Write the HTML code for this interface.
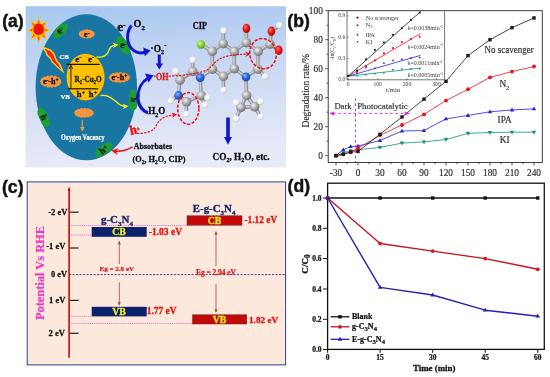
<!DOCTYPE html>
<html><head><meta charset="utf-8"><title>Figure</title>
<style>
html,body{margin:0;padding:0;background:#fff;}
body{width:550px;height:377px;overflow:hidden;}
svg{display:block;filter:blur(0.35px);}
text{font-family:"Liberation Serif",serif;}
.lab{font-family:"Liberation Sans",sans-serif;font-weight:bold;font-size:17.6px;fill:#111;stroke:#111;stroke-width:0.45px;}
.b{font-weight:bold;}
</style></head><body>
<svg width="550" height="377" viewBox="0 0 550 377">
<defs>
<linearGradient id="bga" x1="0" y1="0" x2="0.12" y2="1">
<stop offset="0" stop-color="#a7c7f0"/><stop offset="0.45" stop-color="#c9d8f3"/><stop offset="1" stop-color="#e9eaf8"/>
</linearGradient>
<radialGradient id="gC" cx="0.38" cy="0.35" r="0.7"><stop offset="0" stop-color="#f4f4f4"/><stop offset="0.45" stop-color="#b2b2b2"/><stop offset="1" stop-color="#6c6c6c"/></radialGradient>
<radialGradient id="gH" cx="0.4" cy="0.38" r="0.7"><stop offset="0" stop-color="#ffffff"/><stop offset="0.6" stop-color="#f0f0f0"/><stop offset="1" stop-color="#b8b8b8"/></radialGradient>
<radialGradient id="gN" cx="0.38" cy="0.35" r="0.7"><stop offset="0" stop-color="#8fb4ff"/><stop offset="0.45" stop-color="#2f6fe0"/><stop offset="1" stop-color="#1840a0"/></radialGradient>
<radialGradient id="gO" cx="0.38" cy="0.35" r="0.7"><stop offset="0" stop-color="#ff7a6a"/><stop offset="0.45" stop-color="#ee1c1c"/><stop offset="1" stop-color="#a00808"/></radialGradient>
<radialGradient id="gF" cx="0.38" cy="0.35" r="0.7"><stop offset="0" stop-color="#d8ff9a"/><stop offset="0.45" stop-color="#8fd83a"/><stop offset="1" stop-color="#5a9a18"/></radialGradient>
<marker id="mY" viewBox="0 0 10 10" refX="5" refY="5" markerWidth="4.2" markerHeight="4.2" orient="auto"><path d="M0,0 L10,5 L0,10 L3,5 Z" fill="#f4f01a"/></marker>
<marker id="mR" viewBox="0 0 10 10" refX="6" refY="5" markerWidth="5" markerHeight="5" orient="auto"><path d="M0,0 L10,5 L0,10 L3,5 Z" fill="#e81010"/></marker>
<marker id="mB" viewBox="0 0 10 10" refX="4" refY="5" markerWidth="3.2" markerHeight="3.2" orient="auto"><path d="M0,0 L10,5 L0,10 Z" fill="#1018c8"/></marker>
<marker id="mBr" viewBox="0 0 10 10" refX="8" refY="5" markerWidth="5" markerHeight="5" orient="auto"><path d="M0,1 L10,5 L0,9 L2,5 Z" fill="#a84040"/></marker>

</defs>
<rect width="550" height="377" fill="#ffffff"/>

<g id="panelA">
<rect x="25.6" y="6.2" width="260.5" height="161.3" fill="url(#bga)"/>
<text class="lab" x="2.2" y="27.3">(a)</text>
<ellipse cx="86.3" cy="87.3" rx="50.7" ry="73" fill="#1975a2"/>
<polygon points="38.6,16.6 40.9,23.7 46.9,20.6 44.3,27.5 50.4,30.2 44.3,32.9 46.9,39.8 40.9,36.7 38.6,43.8 36.3,36.7 30.3,39.8 32.9,32.9 26.8,30.2 32.9,27.5 30.3,20.6 36.3,23.7" fill="#ffc400"/>
<ellipse cx="38.6" cy="30.2" rx="7.2" ry="7.8" fill="#ffc400"/>
<path d="M38.6,19.2 L37.3,23.3 L39.9,23.3 Z M45.4,22.4 L42.1,24.4 L43.9,26.3 Z M48.2,30.2 L44.9,28.8 L44.9,31.6 Z M45.4,38.0 L43.9,34.1 L42.1,36.0 Z M38.6,41.2 L39.9,37.1 L37.3,37.1 Z M31.8,38.0 L35.1,36.0 L33.3,34.1 Z M29.0,30.2 L32.3,31.6 L32.3,28.8 Z M31.8,22.4 L33.3,26.3 L35.1,24.4 Z" fill="#ff5a08"/>
<ellipse cx="38.6" cy="29.4" rx="5.3" ry="5.8" fill="#f01212"/>
<path d="M41.1,45.9 L50.8,49.6 L54.6,53.6 L57,60.2 L60.4,64 L64.3,73.4 L56,66.4 L51.6,62 L50,58.8 L46.2,55.2 L45.4,52.4 Z" fill="#ffd21a"/>
<path d="M44.5,48.4 L50.2,50.9 L53.4,54.4 L55.7,60.8 L59,64.7 L61.6,70 L56.4,65.2 L52.6,61.3 L51.1,58 L47.5,54.5 L46.7,52 Z" fill="#f02a10"/>
<ellipse cx="85.6" cy="77.1" rx="19" ry="23.3" fill="#ffc000"/>
<line x1="66.4" y1="64.3" x2="99.8" y2="64.3" stroke="#111" stroke-width="1.2"/>
<line x1="68" y1="88.8" x2="98.2" y2="88.8" stroke="#111" stroke-width="1.2"/>
<line x1="70.9" y1="88.8" x2="70.9" y2="67" stroke="#111" stroke-width="0.9"/><path d="M69,69 L70.9,65.2 L72.8,69" fill="none" stroke="#111" stroke-width="0.9"/>
<text x="59.4" y="59.4" font-size="6.8" fill="#fff" font-weight="bold" stroke="#fff" stroke-width="0.2">CB</text>
<text x="60.4" y="98.8" font-size="6.8" fill="#fff" font-weight="bold" stroke="#fff" stroke-width="0.2">VB</text>
<text x="75.2" y="61.8" font-size="9.2" fill="#111" font-weight="bold" stroke="#111" stroke-width="0.28">e<tspan dy="-2.6" font-size="68%">-</tspan><tspan dy="2.6" font-size="0.1"> </tspan></text>
<text x="88" y="61.8" font-size="9.2" fill="#111" font-weight="bold" stroke="#111" stroke-width="0.28">e<tspan dy="-2.6" font-size="68%">-</tspan><tspan dy="2.6" font-size="0.1"> </tspan></text>
<text x="76.6" y="97.3" font-size="9.2" fill="#111" font-weight="bold" stroke="#111" stroke-width="0.28">h<tspan dy="-2.6" font-size="68%">+</tspan><tspan dy="2.6" font-size="0.1"> </tspan></text>
<text x="88.5" y="97.3" font-size="9.2" fill="#111" font-weight="bold" stroke="#111" stroke-width="0.28">h<tspan dy="-2.6" font-size="68%">+</tspan><tspan dy="2.6" font-size="0.1"> </tspan></text>
<text x="74.6" y="81.9" font-size="8.9" fill="#111" font-weight="bold" stroke="#111" stroke-width="0.27" textLength="27" lengthAdjust="spacingAndGlyphs">R<tspan dy="2" font-size="60%">2</tspan><tspan dy="-2" font-size="0.1"> </tspan>-Cu<tspan dy="2" font-size="60%">2</tspan><tspan dy="-2" font-size="0.1"> </tspan>O</text>
<g transform="translate(86.7,34) scale(0.72,0.72)" fill="#f79440"><ellipse cx="0" cy="0" rx="9.6" ry="5"/><circle cx="8.92" cy="0.89" r="2"/><circle cx="7.41" cy="2.61" r="2"/><circle cx="4.62" cy="3.88" r="2"/><circle cx="1.04" cy="4.47" r="2"/><circle cx="-2.73" cy="4.29" r="2"/><circle cx="-6.02" cy="3.37" r="2"/><circle cx="-8.28" cy="1.87" r="2"/><circle cx="-9.10" cy="0.04" r="2"/><circle cx="-8.35" cy="-1.79" r="2"/><circle cx="-6.15" cy="-3.32" r="2"/><circle cx="-2.89" cy="-4.27" r="2"/><circle cx="0.87" cy="-4.48" r="2"/><circle cx="4.48" cy="-3.92" r="2"/><circle cx="7.31" cy="-2.68" r="2"/><circle cx="8.88" cy="-0.98" r="2"/></g>
<text x="86.7" y="36.9" font-size="8.6" fill="#111" font-weight="bold" text-anchor="middle" stroke="#111" stroke-width="0.26">e<tspan dy="-2.4" font-size="68%">-</tspan><tspan dy="2.4" font-size="0.1"> </tspan></text>
<g transform="translate(50.8,81.5) scale(0.96,0.96)" fill="#f79440"><ellipse cx="0" cy="0" rx="9.6" ry="5"/><circle cx="8.92" cy="0.89" r="2"/><circle cx="7.41" cy="2.61" r="2"/><circle cx="4.62" cy="3.88" r="2"/><circle cx="1.04" cy="4.47" r="2"/><circle cx="-2.73" cy="4.29" r="2"/><circle cx="-6.02" cy="3.37" r="2"/><circle cx="-8.28" cy="1.87" r="2"/><circle cx="-9.10" cy="0.04" r="2"/><circle cx="-8.35" cy="-1.79" r="2"/><circle cx="-6.15" cy="-3.32" r="2"/><circle cx="-2.89" cy="-4.27" r="2"/><circle cx="0.87" cy="-4.48" r="2"/><circle cx="4.48" cy="-3.92" r="2"/><circle cx="7.31" cy="-2.68" r="2"/><circle cx="8.88" cy="-0.98" r="2"/></g>
<text x="50.8" y="84.4" font-size="9" fill="#111" font-weight="bold" text-anchor="middle" stroke="#111" stroke-width="0.27" textLength="15.8" lengthAdjust="spacingAndGlyphs">e<tspan dy="-2.4" font-size="68%">-</tspan><tspan dy="2.4" font-size="0.1"> </tspan>-h<tspan dy="-2.4" font-size="68%">+</tspan><tspan dy="2.4" font-size="0.1"> </tspan></text>
<g transform="translate(119.4,77.5) scale(0.95,0.84)" fill="#f79440"><ellipse cx="0" cy="0" rx="9.6" ry="5"/><circle cx="8.92" cy="0.89" r="2"/><circle cx="7.41" cy="2.61" r="2"/><circle cx="4.62" cy="3.88" r="2"/><circle cx="1.04" cy="4.47" r="2"/><circle cx="-2.73" cy="4.29" r="2"/><circle cx="-6.02" cy="3.37" r="2"/><circle cx="-8.28" cy="1.87" r="2"/><circle cx="-9.10" cy="0.04" r="2"/><circle cx="-8.35" cy="-1.79" r="2"/><circle cx="-6.15" cy="-3.32" r="2"/><circle cx="-2.89" cy="-4.27" r="2"/><circle cx="0.87" cy="-4.48" r="2"/><circle cx="4.48" cy="-3.92" r="2"/><circle cx="7.31" cy="-2.68" r="2"/><circle cx="8.88" cy="-0.98" r="2"/></g>
<text x="119.4" y="80.4" font-size="9" fill="#111" font-weight="bold" text-anchor="middle" stroke="#111" stroke-width="0.27" textLength="15.8" lengthAdjust="spacingAndGlyphs">e<tspan dy="-2.4" font-size="68%">-</tspan><tspan dy="2.4" font-size="0.1"> </tspan>-h<tspan dy="-2.4" font-size="68%">+</tspan><tspan dy="2.4" font-size="0.1"> </tspan></text>
<g transform="translate(84,112.8) scale(0.88,0.78)" fill="#f79440"><ellipse cx="0" cy="0" rx="9.6" ry="5"/><circle cx="8.92" cy="0.89" r="2"/><circle cx="7.41" cy="2.61" r="2"/><circle cx="4.62" cy="3.88" r="2"/><circle cx="1.04" cy="4.47" r="2"/><circle cx="-2.73" cy="4.29" r="2"/><circle cx="-6.02" cy="3.37" r="2"/><circle cx="-8.28" cy="1.87" r="2"/><circle cx="-9.10" cy="0.04" r="2"/><circle cx="-8.35" cy="-1.79" r="2"/><circle cx="-6.15" cy="-3.32" r="2"/><circle cx="-2.89" cy="-4.27" r="2"/><circle cx="0.87" cy="-4.48" r="2"/><circle cx="4.48" cy="-3.92" r="2"/><circle cx="7.31" cy="-2.68" r="2"/><circle cx="8.88" cy="-0.98" r="2"/></g>
<line x1="82.3" y1="119.8" x2="82.3" y2="128.5" stroke="#e89a40" stroke-width="1.2"/><path d="M80.1,127 L82.3,131.8 L84.5,127 Z" fill="#f0a040"/>
<text x="82.8" y="139.6" font-size="7.5" fill="#fff" font-weight="bold" text-anchor="middle" stroke="#fff" stroke-width="0.22" textLength="43.5" lengthAdjust="spacingAndGlyphs">Oxygen Vacancy</text>
<rect x="51.400000000000006" y="26.200000000000003" width="18.4" height="9.2" rx="7.82" ry="4.6" transform="rotate(-46 60.6 30.8)" fill="#1b9e32"/>
<text x="60.6" y="33.4" font-size="10" font-weight="bold" fill="#111" text-anchor="middle" stroke="#111" stroke-width="0.25" transform="rotate(-30 60.6 30.8)">e<tspan dy="-2.8" font-size="60%">-</tspan><tspan dy="2.8" font-size="0.1"> </tspan></text>
<rect x="113.2" y="40.699999999999996" width="20.4" height="9.4" rx="7.99" ry="4.7" transform="rotate(58 123.4 45.4)" fill="#1b9e32"/>
<text x="123.4" y="48.0" font-size="9.4" font-weight="bold" fill="#111" text-anchor="middle" stroke="#111" stroke-width="0.25" transform="rotate(8 123.4 45.4)">e<tspan dy="-2.6" font-size="60%">-</tspan><tspan dy="2.6" font-size="0.1"> </tspan></text>
<rect x="122.6" y="95.39999999999999" width="21.2" height="8.8" rx="7.48" ry="4.4" transform="rotate(90 133.2 99.8)" fill="#1b9e32"/>
<text x="133.2" y="102.2" font-size="8.5" font-weight="bold" fill="#111" text-anchor="middle" stroke="#111" stroke-width="0.25" transform="rotate(90 133.2 99.8)">h</text>
<rect x="33.1" y="113.10000000000001" width="21.2" height="8.6" rx="7.31" ry="4.3" transform="rotate(66 43.7 117.4)" fill="#1b9e32"/>
<text x="43.7" y="120.0" font-size="9" font-weight="bold" fill="#111" text-anchor="middle" stroke="#111" stroke-width="0.25" transform="rotate(66 43.7 117.4)">h</text>
<rect x="93.6" y="145.10000000000002" width="20.4" height="9.4" rx="7.99" ry="4.7" transform="rotate(-35 103.8 149.8)" fill="#1b9e32"/>
<text x="103.8" y="152.8" font-size="9.4" font-weight="bold" fill="#111" text-anchor="middle" stroke="#111" stroke-width="0.25" transform="rotate(-35 103.8 149.8)">h<tspan dy="-2.4" font-size="68%">+</tspan><tspan dy="2.4" font-size="0.1"> </tspan></text>
<path d="M96.5,57 C102,57.6 106.5,55.6 108.2,52 C109.8,48.4 110.6,45.5 115.6,45.1" fill="none" stroke="#f4f01a" stroke-width="1.4" marker-end="url(#mY)"/>
<path d="M100.5,95.5 C108,94.5 112,98.5 116,101.5 C120,105.5 123,106.4 125.6,106.3" fill="none" stroke="#f4f01a" stroke-width="1.4" marker-end="url(#mY)"/>
<text x="117.2" y="31.4" font-size="12.6" fill="#111" font-weight="bold" stroke="#111" stroke-width="0.38" textLength="8.4" lengthAdjust="spacingAndGlyphs">e<tspan dy="-4" font-size="55%">-</tspan><tspan dy="4" font-size="0.1"> </tspan></text>
<text x="133.6" y="27.3" font-size="10.6" fill="#111" font-weight="bold" stroke="#111" stroke-width="0.32" textLength="11.2" lengthAdjust="spacingAndGlyphs">O<tspan dy="2.2" font-size="66%">2</tspan><tspan dy="-2.2" font-size="0.1"> </tspan></text>
<path d="M131.5,25.5 C125.5,33 127,44 132,49 C136,53 141,53.5 145,52.2" fill="none" stroke="#1216cc" stroke-width="3"/>
<path d="M143.2,47.6 L150.6,50.6 L144.8,56.2 Z" fill="#1216cc"/>
<path d="M137.8,98 C138,89 142,81.5 148,78.2" fill="none" stroke="#1216cc" stroke-width="2.8"/>
<path d="M145,73.6 L153.6,75.2 L148.6,82.4 Z" fill="#1216cc"/>
<path d="M137.9,94 C137.4,100 139,105 141.4,108 C143.2,110.4 145.4,112 148,112.8" fill="none" stroke="#1216cc" stroke-width="3.4"/>
<text x="150.6" y="52.2" font-size="10.6" fill="#111" font-weight="bold" stroke="#111" stroke-width="0.32" textLength="15.8" lengthAdjust="spacingAndGlyphs">·O<tspan dy="2.2" font-size="66%">2</tspan><tspan dy="-2.2" font-size="0.1"> </tspan><tspan dy="-4.6" font-size="72%">-</tspan><tspan dy="4.6" font-size="0.1"> </tspan></text>
<path d="M157.8,54.6 L160.8,54.6 L160.8,63.6 L163,63.6 L159.3,69.6 L155.6,63.6 L157.8,63.6 Z" fill="#1216cc"/>
<text x="153.4" y="80" font-size="10.4" fill="#e81010" font-weight="bold" stroke="#e81010" stroke-width="0.31" textLength="15" lengthAdjust="spacingAndGlyphs">·OH</text>
<text x="148.2" y="114.4" font-size="10.4" fill="#111" font-weight="bold" stroke="#111" stroke-width="0.31" textLength="17.2" lengthAdjust="spacingAndGlyphs">H<tspan dy="2.2" font-size="66%">2</tspan><tspan dy="-2.2" font-size="0.1"> </tspan>O</text>
<text x="129.6" y="134.6" font-size="13.4" fill="#e81010" font-weight="bold" transform="rotate(-13 132 130)" stroke="#e81010" stroke-width="0.4" textLength="10.4" lengthAdjust="spacingAndGlyphs">h<tspan dy="-2.2" font-size="46%">+</tspan><tspan dy="2.2" font-size="0.1"> </tspan></text>
<text x="133.8" y="149.3" font-size="8.8" fill="#111" font-weight="bold" stroke="#111" stroke-width="0.26" textLength="38.2" lengthAdjust="spacingAndGlyphs">Absorbates</text>
<text x="132.4" y="162.2" font-size="8.8" fill="#111" font-weight="bold" stroke="#111" stroke-width="0.26" textLength="53.2" lengthAdjust="spacingAndGlyphs">(O<tspan dy="1.8" font-size="66%">2</tspan><tspan dy="-1.8" font-size="0.1"> </tspan>, H<tspan dy="1.8" font-size="66%">2</tspan><tspan dy="-1.8" font-size="0.1"> </tspan>O, CIP)</text>
<text x="192.8" y="29.3" font-size="9.4" fill="#111" font-weight="bold" stroke="#111" stroke-width="0.28" textLength="14.4" lengthAdjust="spacingAndGlyphs">CIP</text>
<text x="212.6" y="159.6" font-size="9.8" fill="#111" font-weight="bold" stroke="#111" stroke-width="0.29" textLength="57" lengthAdjust="spacingAndGlyphs">CO<tspan dy="2" font-size="66%">2</tspan><tspan dy="-2" font-size="0.1"> </tspan>, H<tspan dy="2" font-size="66%">2</tspan><tspan dy="-2" font-size="0.1"> </tspan>O, etc.</text>
<path d="M226.2,117.6 L229.8,117.6 L229.8,137 L232,137 L228,144.8 L224,137 L226.2,137 Z" fill="#1216cc"/>
<path d="M132.6,146.8 C126,150.5 120,152 114,151" fill="none" stroke="#e81010" stroke-width="1.4" marker-end="url(#mR)"/>
<g clip-path="url(#clipA)">
<line x1="223.6" y1="30.5" x2="223.2" y2="43.6" stroke="#959595" stroke-width="3.6"/>
<line x1="223.2" y1="30.1" x2="222.79999999999998" y2="43.2" stroke="#cfcfcf" stroke-width="1.5"/>
<line x1="246.4" y1="28.4" x2="246.4" y2="42.6" stroke="#959595" stroke-width="3.6"/>
<line x1="246.0" y1="28.0" x2="246.0" y2="42.2" stroke="#cfcfcf" stroke-width="1.5"/>
<line x1="271.4" y1="31.2" x2="270" y2="44.1" stroke="#959595" stroke-width="3.6"/>
<line x1="271.0" y1="30.8" x2="269.6" y2="43.7" stroke="#cfcfcf" stroke-width="1.5"/>
<line x1="271.4" y1="31.2" x2="279.4" y2="25.2" stroke="#959595" stroke-width="3.6"/>
<line x1="271.0" y1="30.8" x2="279.0" y2="24.8" stroke="#cfcfcf" stroke-width="1.5"/>
<line x1="200.9" y1="44.5" x2="212.3" y2="51.4" stroke="#959595" stroke-width="3.6"/>
<line x1="200.5" y1="44.1" x2="211.9" y2="51.0" stroke="#cfcfcf" stroke-width="1.5"/>
<line x1="223.2" y1="43.6" x2="212.3" y2="51.4" stroke="#959595" stroke-width="3.6"/>
<line x1="222.79999999999998" y1="43.2" x2="211.9" y2="51.0" stroke="#cfcfcf" stroke-width="1.5"/>
<line x1="223.2" y1="43.6" x2="234.3" y2="51.4" stroke="#959595" stroke-width="3.6"/>
<line x1="222.79999999999998" y1="43.2" x2="233.9" y2="51.0" stroke="#cfcfcf" stroke-width="1.5"/>
<line x1="246.4" y1="42.6" x2="234.3" y2="51.4" stroke="#959595" stroke-width="3.6"/>
<line x1="246.0" y1="42.2" x2="233.9" y2="51.0" stroke="#cfcfcf" stroke-width="1.5"/>
<line x1="246.4" y1="42.6" x2="258.2" y2="51.4" stroke="#959595" stroke-width="3.6"/>
<line x1="246.0" y1="42.2" x2="257.8" y2="51.0" stroke="#cfcfcf" stroke-width="1.5"/>
<line x1="270" y1="44.1" x2="258.2" y2="51.4" stroke="#959595" stroke-width="3.6"/>
<line x1="269.6" y1="43.7" x2="257.8" y2="51.0" stroke="#cfcfcf" stroke-width="1.5"/>
<line x1="270" y1="44.1" x2="278.8" y2="50.2" stroke="#959595" stroke-width="3.6"/>
<line x1="269.6" y1="43.7" x2="278.40000000000003" y2="49.800000000000004" stroke="#cfcfcf" stroke-width="1.5"/>
<line x1="212.3" y1="51.4" x2="212.5" y2="69.2" stroke="#959595" stroke-width="3.6"/>
<line x1="211.9" y1="51.0" x2="212.1" y2="68.8" stroke="#cfcfcf" stroke-width="1.5"/>
<line x1="234.3" y1="51.4" x2="234.3" y2="68.6" stroke="#959595" stroke-width="3.6"/>
<line x1="233.9" y1="51.0" x2="233.9" y2="68.19999999999999" stroke="#cfcfcf" stroke-width="1.5"/>
<line x1="258.2" y1="51.4" x2="257.8" y2="69.2" stroke="#959595" stroke-width="3.6"/>
<line x1="257.8" y1="51.0" x2="257.40000000000003" y2="68.8" stroke="#cfcfcf" stroke-width="1.5"/>
<line x1="257.8" y1="69.2" x2="265.2" y2="76.4" stroke="#959595" stroke-width="3.6"/>
<line x1="257.40000000000003" y1="68.8" x2="264.8" y2="76.0" stroke="#cfcfcf" stroke-width="1.5"/>
<line x1="212.5" y1="69.2" x2="223.5" y2="76.4" stroke="#959595" stroke-width="3.6"/>
<line x1="212.1" y1="68.8" x2="223.1" y2="76.0" stroke="#cfcfcf" stroke-width="1.5"/>
<line x1="234.3" y1="68.6" x2="223.5" y2="76.4" stroke="#959595" stroke-width="3.6"/>
<line x1="233.9" y1="68.19999999999999" x2="223.1" y2="76.0" stroke="#cfcfcf" stroke-width="1.5"/>
<line x1="234.3" y1="68.6" x2="246" y2="77" stroke="#959595" stroke-width="3.6"/>
<line x1="233.9" y1="68.19999999999999" x2="245.6" y2="76.6" stroke="#cfcfcf" stroke-width="1.5"/>
<line x1="257.8" y1="69.2" x2="246" y2="77" stroke="#959595" stroke-width="3.6"/>
<line x1="257.40000000000003" y1="68.8" x2="245.6" y2="76.6" stroke="#cfcfcf" stroke-width="1.5"/>
<line x1="212.5" y1="69.2" x2="200.2" y2="77.6" stroke="#959595" stroke-width="3.6"/>
<line x1="212.1" y1="68.8" x2="199.79999999999998" y2="77.19999999999999" stroke="#cfcfcf" stroke-width="1.5"/>
<line x1="200.2" y1="77.6" x2="192.7" y2="71.4" stroke="#959595" stroke-width="3.6"/>
<line x1="199.79999999999998" y1="77.19999999999999" x2="192.29999999999998" y2="71.0" stroke="#cfcfcf" stroke-width="1.5"/>
<line x1="192.7" y1="71.4" x2="192.6" y2="59.8" stroke="#959595" stroke-width="3.6"/>
<line x1="192.29999999999998" y1="71.0" x2="192.2" y2="59.4" stroke="#cfcfcf" stroke-width="1.5"/>
<line x1="192.7" y1="71.4" x2="180" y2="80.2" stroke="#959595" stroke-width="3.6"/>
<line x1="192.29999999999998" y1="71.0" x2="179.6" y2="79.8" stroke="#cfcfcf" stroke-width="1.5"/>
<line x1="180" y1="80.2" x2="175.6" y2="71.2" stroke="#959595" stroke-width="3.6"/>
<line x1="179.6" y1="79.8" x2="175.2" y2="70.8" stroke="#cfcfcf" stroke-width="1.5"/>
<line x1="180" y1="80.2" x2="178.6" y2="95.5" stroke="#959595" stroke-width="3.6"/>
<line x1="179.6" y1="79.8" x2="178.2" y2="95.1" stroke="#cfcfcf" stroke-width="1.5"/>
<line x1="200.2" y1="77.6" x2="201.2" y2="95.6" stroke="#959595" stroke-width="3.6"/>
<line x1="199.79999999999998" y1="77.19999999999999" x2="200.79999999999998" y2="95.19999999999999" stroke="#cfcfcf" stroke-width="1.5"/>
<line x1="223.5" y1="76.4" x2="223.6" y2="90" stroke="#959595" stroke-width="3.6"/>
<line x1="223.1" y1="76.0" x2="223.2" y2="89.6" stroke="#cfcfcf" stroke-width="1.5"/>
<line x1="178.6" y1="95.5" x2="186.6" y2="101.8" stroke="#959595" stroke-width="3.6"/>
<line x1="178.2" y1="95.1" x2="186.2" y2="101.39999999999999" stroke="#cfcfcf" stroke-width="1.5"/>
<line x1="178.6" y1="95.5" x2="171" y2="100.8" stroke="#959595" stroke-width="3.6"/>
<line x1="178.2" y1="95.1" x2="170.6" y2="100.39999999999999" stroke="#cfcfcf" stroke-width="1.5"/>
<line x1="186.6" y1="101.8" x2="201.2" y2="95.6" stroke="#959595" stroke-width="3.6"/>
<line x1="186.2" y1="101.39999999999999" x2="200.79999999999998" y2="95.19999999999999" stroke="#cfcfcf" stroke-width="1.5"/>
<line x1="186.6" y1="101.8" x2="186.4" y2="114" stroke="#959595" stroke-width="3.6"/>
<line x1="186.2" y1="101.39999999999999" x2="186.0" y2="113.6" stroke="#cfcfcf" stroke-width="1.5"/>
<line x1="201.2" y1="95.6" x2="207.4" y2="97.6" stroke="#959595" stroke-width="3.6"/>
<line x1="200.79999999999998" y1="95.19999999999999" x2="207.0" y2="97.19999999999999" stroke="#cfcfcf" stroke-width="1.5"/>
<line x1="201.2" y1="95.6" x2="205" y2="104.8" stroke="#959595" stroke-width="3.6"/>
<line x1="200.79999999999998" y1="95.19999999999999" x2="204.6" y2="104.39999999999999" stroke="#cfcfcf" stroke-width="1.5"/>
<line x1="246" y1="77" x2="246.6" y2="95.4" stroke="#959595" stroke-width="3.6"/>
<line x1="245.6" y1="76.6" x2="246.2" y2="95.0" stroke="#cfcfcf" stroke-width="1.5"/>
<line x1="246.6" y1="95.4" x2="241" y2="107.4" stroke="#959595" stroke-width="3.6"/>
<line x1="246.2" y1="95.0" x2="240.6" y2="107.0" stroke="#cfcfcf" stroke-width="1.5"/>
<line x1="246.6" y1="95.4" x2="254.6" y2="106.8" stroke="#959595" stroke-width="3.6"/>
<line x1="246.2" y1="95.0" x2="254.2" y2="106.39999999999999" stroke="#cfcfcf" stroke-width="1.5"/>
<line x1="241" y1="107.4" x2="254.6" y2="106.8" stroke="#959595" stroke-width="3.6"/>
<line x1="240.6" y1="107.0" x2="254.2" y2="106.39999999999999" stroke="#cfcfcf" stroke-width="1.5"/>
<line x1="241" y1="107.4" x2="236" y2="102.6" stroke="#959595" stroke-width="3.6"/>
<line x1="240.6" y1="107.0" x2="235.6" y2="102.19999999999999" stroke="#cfcfcf" stroke-width="1.5"/>
<line x1="241" y1="107.4" x2="236.2" y2="118.6" stroke="#959595" stroke-width="3.6"/>
<line x1="240.6" y1="107.0" x2="235.79999999999998" y2="118.19999999999999" stroke="#cfcfcf" stroke-width="1.5"/>
<line x1="254.6" y1="106.8" x2="260.6" y2="101.6" stroke="#959595" stroke-width="3.6"/>
<line x1="254.2" y1="106.39999999999999" x2="260.20000000000005" y2="101.19999999999999" stroke="#cfcfcf" stroke-width="1.5"/>
<line x1="254.6" y1="106.8" x2="260.6" y2="116.8" stroke="#959595" stroke-width="3.6"/>
<line x1="254.2" y1="106.39999999999999" x2="260.20000000000005" y2="116.39999999999999" stroke="#cfcfcf" stroke-width="1.5"/>
<ellipse cx="246.4" cy="28.4" rx="3.8" ry="4.7" fill="url(#gO)"/>
<ellipse cx="271.4" cy="31.2" rx="3.8" ry="4.7" fill="url(#gO)"/>
<ellipse cx="200.9" cy="44.5" rx="4.2" ry="4.2" fill="url(#gF)"/>
<ellipse cx="223.2" cy="43.6" rx="4.8" ry="4.8" fill="url(#gC)"/>
<ellipse cx="246.4" cy="42.6" rx="4.8" ry="4.8" fill="url(#gC)"/>
<ellipse cx="270" cy="44.1" rx="4.8" ry="4.8" fill="url(#gC)"/>
<ellipse cx="212.3" cy="51.4" rx="4.8" ry="4.8" fill="url(#gC)"/>
<ellipse cx="234.3" cy="51.4" rx="4.8" ry="4.8" fill="url(#gC)"/>
<ellipse cx="258.2" cy="51.4" rx="4.8" ry="4.8" fill="url(#gC)"/>
<ellipse cx="278.8" cy="50.2" rx="3.8" ry="4.7" fill="url(#gO)"/>
<ellipse cx="212.5" cy="69.2" rx="4.8" ry="4.8" fill="url(#gC)"/>
<ellipse cx="234.3" cy="68.6" rx="4.8" ry="4.8" fill="url(#gC)"/>
<ellipse cx="257.8" cy="69.2" rx="4.8" ry="4.8" fill="url(#gC)"/>
<ellipse cx="192.7" cy="71.4" rx="4.8" ry="4.8" fill="url(#gC)"/>
<ellipse cx="180" cy="80.2" rx="4.8" ry="4.8" fill="url(#gC)"/>
<ellipse cx="200.2" cy="77.6" rx="4.4" ry="4.4" fill="url(#gN)"/>
<ellipse cx="223.5" cy="76.4" rx="4.8" ry="4.8" fill="url(#gC)"/>
<ellipse cx="246" cy="77" rx="4.4" ry="4.4" fill="url(#gN)"/>
<ellipse cx="178.6" cy="95.5" rx="4.4" ry="4.4" fill="url(#gN)"/>
<ellipse cx="186.6" cy="101.8" rx="4.8" ry="4.8" fill="url(#gC)"/>
<ellipse cx="201.2" cy="95.6" rx="4.8" ry="4.8" fill="url(#gC)"/>
<ellipse cx="246.6" cy="95.4" rx="4.8" ry="4.8" fill="url(#gC)"/>
<ellipse cx="241" cy="107.4" rx="4.8" ry="4.8" fill="url(#gC)"/>
<ellipse cx="254.6" cy="106.8" rx="4.8" ry="4.8" fill="url(#gC)"/>
<ellipse cx="223.6" cy="30.5" rx="3.2" ry="3.2" fill="url(#gH)"/>
<ellipse cx="279.4" cy="25.2" rx="3.2" ry="3.2" fill="url(#gH)"/>
<ellipse cx="265.2" cy="76.4" rx="3.2" ry="3.2" fill="url(#gH)"/>
<ellipse cx="192.6" cy="59.8" rx="3.2" ry="3.2" fill="url(#gH)"/>
<ellipse cx="175.6" cy="71.2" rx="3.2" ry="3.2" fill="url(#gH)"/>
<ellipse cx="223.6" cy="90" rx="3.2" ry="3.2" fill="url(#gH)"/>
<ellipse cx="171" cy="100.8" rx="3.2" ry="3.2" fill="url(#gH)"/>
<ellipse cx="186.4" cy="114" rx="3.2" ry="3.2" fill="url(#gH)"/>
<ellipse cx="207.4" cy="97.6" rx="3.2" ry="3.2" fill="url(#gH)"/>
<ellipse cx="205" cy="104.8" rx="3.2" ry="3.2" fill="url(#gH)"/>
<ellipse cx="236" cy="102.6" rx="3.2" ry="3.2" fill="url(#gH)"/>
<ellipse cx="236.2" cy="118.6" rx="3.2" ry="3.2" fill="url(#gH)"/>
<ellipse cx="260.6" cy="101.6" rx="3.2" ry="3.2" fill="url(#gH)"/>
<ellipse cx="260.6" cy="116.8" rx="3.2" ry="3.2" fill="url(#gH)"/>
</g>
<ellipse cx="263" cy="53.7" rx="13.2" ry="15.2" transform="rotate(-12 263 53.7)" fill="none" stroke="#ee1010" stroke-width="1.5" stroke-dasharray="3.2,1.5"/>
<ellipse cx="188.3" cy="108.4" rx="10.6" ry="15.8" fill="none" stroke="#ee1010" stroke-width="1.5" stroke-dasharray="3.2,1.5"/>
<path d="M168.5,76.2 C184,75.5 200,73.5 208,69.5 C214,65 214,61 224,57 C232,54.6 240,54.6 248.5,54" fill="none" stroke="#e81010" stroke-width="1.1" stroke-dasharray="2.4,1.1" marker-end="url(#mR)"/>
<path d="M137,133.5 C142,133.5 148,132.5 151.6,130.7 C156,128 156,125 158,122.5 C160.5,119 164,117 168,116 L175,114.7" fill="none" stroke="#e81010" stroke-width="1.1" stroke-dasharray="2.4,1.1" marker-end="url(#mR)"/>
</g>
<clipPath id="clipA"><rect x="25.6" y="6.2" width="260.5" height="161.3"/></clipPath>
<g id="panelB">
<text class="lab" x="287.3" y="27">(b)</text>
<rect x="328.2" y="10.7" width="214.09999999999997" height="151.8" fill="#fff" stroke="#2a2a2a" stroke-width="0.9"/>
<line x1="325.2" y1="155.7" x2="328.2" y2="155.7" stroke="#2a2a2a" stroke-width="0.8"/>
<text x="322.8" y="158.8" font-size="9.3" fill="#2a2a2a" text-anchor="end" stroke="#2a2a2a" stroke-width="0.15">0</text>
<line x1="325.2" y1="126.7" x2="328.2" y2="126.7" stroke="#2a2a2a" stroke-width="0.8"/>
<text x="322.8" y="129.8" font-size="9.3" fill="#2a2a2a" text-anchor="end" stroke="#2a2a2a" stroke-width="0.15">20</text>
<line x1="325.2" y1="97.7" x2="328.2" y2="97.7" stroke="#2a2a2a" stroke-width="0.8"/>
<text x="322.8" y="100.8" font-size="9.3" fill="#2a2a2a" text-anchor="end" stroke="#2a2a2a" stroke-width="0.15">40</text>
<line x1="325.2" y1="68.7" x2="328.2" y2="68.7" stroke="#2a2a2a" stroke-width="0.8"/>
<text x="322.8" y="71.8" font-size="9.3" fill="#2a2a2a" text-anchor="end" stroke="#2a2a2a" stroke-width="0.15">60</text>
<line x1="325.2" y1="39.7" x2="328.2" y2="39.7" stroke="#2a2a2a" stroke-width="0.8"/>
<text x="322.8" y="42.8" font-size="9.3" fill="#2a2a2a" text-anchor="end" stroke="#2a2a2a" stroke-width="0.15">80</text>
<line x1="325.2" y1="10.7" x2="328.2" y2="10.7" stroke="#2a2a2a" stroke-width="0.8"/>
<text x="322.8" y="13.8" font-size="9.3" fill="#2a2a2a" text-anchor="end" stroke="#2a2a2a" stroke-width="0.15">100</text>
<line x1="326.4" y1="141.2" x2="328.2" y2="141.2" stroke="#2a2a2a" stroke-width="0.7"/>
<line x1="326.4" y1="112.2" x2="328.2" y2="112.2" stroke="#2a2a2a" stroke-width="0.7"/>
<line x1="326.4" y1="83.2" x2="328.2" y2="83.2" stroke="#2a2a2a" stroke-width="0.7"/>
<line x1="326.4" y1="54.2" x2="328.2" y2="54.2" stroke="#2a2a2a" stroke-width="0.7"/>
<line x1="326.4" y1="25.2" x2="328.2" y2="25.2" stroke="#2a2a2a" stroke-width="0.7"/>
<line x1="336.0" y1="162.5" x2="336.0" y2="165.5" stroke="#2a2a2a" stroke-width="0.8"/>
<text x="336.0" y="175.8" font-size="9.3" fill="#2a2a2a" text-anchor="middle" stroke="#2a2a2a" stroke-width="0.15">-30</text>
<line x1="358.0" y1="162.5" x2="358.0" y2="165.5" stroke="#2a2a2a" stroke-width="0.8"/>
<text x="358.0" y="175.8" font-size="9.3" fill="#2a2a2a" text-anchor="middle" stroke="#2a2a2a" stroke-width="0.15">0</text>
<line x1="380.0" y1="162.5" x2="380.0" y2="165.5" stroke="#2a2a2a" stroke-width="0.8"/>
<text x="380.0" y="175.8" font-size="9.3" fill="#2a2a2a" text-anchor="middle" stroke="#2a2a2a" stroke-width="0.15">30</text>
<line x1="402.0" y1="162.5" x2="402.0" y2="165.5" stroke="#2a2a2a" stroke-width="0.8"/>
<text x="402.0" y="175.8" font-size="9.3" fill="#2a2a2a" text-anchor="middle" stroke="#2a2a2a" stroke-width="0.15">60</text>
<line x1="424.0" y1="162.5" x2="424.0" y2="165.5" stroke="#2a2a2a" stroke-width="0.8"/>
<text x="424.0" y="175.8" font-size="9.3" fill="#2a2a2a" text-anchor="middle" stroke="#2a2a2a" stroke-width="0.15">90</text>
<line x1="446.0" y1="162.5" x2="446.0" y2="165.5" stroke="#2a2a2a" stroke-width="0.8"/>
<text x="446.0" y="175.8" font-size="9.3" fill="#2a2a2a" text-anchor="middle" stroke="#2a2a2a" stroke-width="0.15">120</text>
<line x1="468.0" y1="162.5" x2="468.0" y2="165.5" stroke="#2a2a2a" stroke-width="0.8"/>
<text x="468.0" y="175.8" font-size="9.3" fill="#2a2a2a" text-anchor="middle" stroke="#2a2a2a" stroke-width="0.15">150</text>
<line x1="490.0" y1="162.5" x2="490.0" y2="165.5" stroke="#2a2a2a" stroke-width="0.8"/>
<text x="490.0" y="175.8" font-size="9.3" fill="#2a2a2a" text-anchor="middle" stroke="#2a2a2a" stroke-width="0.15">180</text>
<line x1="512.0" y1="162.5" x2="512.0" y2="165.5" stroke="#2a2a2a" stroke-width="0.8"/>
<text x="512.0" y="175.8" font-size="9.3" fill="#2a2a2a" text-anchor="middle" stroke="#2a2a2a" stroke-width="0.15">210</text>
<line x1="534.0" y1="162.5" x2="534.0" y2="165.5" stroke="#2a2a2a" stroke-width="0.8"/>
<text x="534.0" y="175.8" font-size="9.3" fill="#2a2a2a" text-anchor="middle" stroke="#2a2a2a" stroke-width="0.15">240</text>
<line x1="347.0" y1="162.5" x2="347.0" y2="164.3" stroke="#2a2a2a" stroke-width="0.7"/>
<line x1="369.0" y1="162.5" x2="369.0" y2="164.3" stroke="#2a2a2a" stroke-width="0.7"/>
<line x1="391.0" y1="162.5" x2="391.0" y2="164.3" stroke="#2a2a2a" stroke-width="0.7"/>
<line x1="413.0" y1="162.5" x2="413.0" y2="164.3" stroke="#2a2a2a" stroke-width="0.7"/>
<line x1="435.0" y1="162.5" x2="435.0" y2="164.3" stroke="#2a2a2a" stroke-width="0.7"/>
<line x1="457.0" y1="162.5" x2="457.0" y2="164.3" stroke="#2a2a2a" stroke-width="0.7"/>
<line x1="479.0" y1="162.5" x2="479.0" y2="164.3" stroke="#2a2a2a" stroke-width="0.7"/>
<line x1="501.0" y1="162.5" x2="501.0" y2="164.3" stroke="#2a2a2a" stroke-width="0.7"/>
<line x1="523.0" y1="162.5" x2="523.0" y2="164.3" stroke="#2a2a2a" stroke-width="0.7"/>
<text x="0" y="0" font-size="9.45" fill="#2a2a2a" text-anchor="middle" transform="translate(308.7,90.6) rotate(-90)" stroke="#2a2a2a" stroke-width="0.15">Degradation rate/%</text>
<polyline points="336.0,155.7 343.3,152.8 350.7,150.8 358.0,149.8 380.0,147.4 402.0,143.1 424.0,141.9 446.0,139.5 468.0,133.4 490.0,132.5 512.0,132.2 534.0,132.2" fill="none" stroke="#12907a" stroke-width="0.8"/>
<path d="M336.00,158.00 l2.20,-3.80 l-4.40,0 Z" fill="#12907a"/>
<path d="M343.33,155.10 l2.20,-3.80 l-4.40,0 Z" fill="#12907a"/>
<path d="M350.67,153.07 l2.20,-3.80 l-4.40,0 Z" fill="#12907a"/>
<path d="M358.00,152.06 l2.20,-3.80 l-4.40,0 Z" fill="#12907a"/>
<path d="M380.00,149.74 l2.20,-3.80 l-4.40,0 Z" fill="#12907a"/>
<path d="M402.00,145.38 l2.20,-3.80 l-4.40,0 Z" fill="#12907a"/>
<path d="M424.00,144.22 l2.20,-3.80 l-4.40,0 Z" fill="#12907a"/>
<path d="M446.00,141.76 l2.20,-3.80 l-4.40,0 Z" fill="#12907a"/>
<path d="M468.00,135.67 l2.20,-3.80 l-4.40,0 Z" fill="#12907a"/>
<path d="M490.00,134.80 l2.20,-3.80 l-4.40,0 Z" fill="#12907a"/>
<path d="M512.00,134.51 l2.20,-3.80 l-4.40,0 Z" fill="#12907a"/>
<path d="M534.00,134.51 l2.20,-3.80 l-4.40,0 Z" fill="#12907a"/>
<polyline points="336.0,155.4 343.3,149.8 350.7,146.6 358.0,146.0 380.0,140.5 402.0,131.0 424.0,130.5 446.0,118.9 468.0,115.4 490.0,111.8 512.0,109.9 534.0,108.9" fill="none" stroke="#2222e4" stroke-width="0.8"/>
<path d="M336.00,153.11 l2.20,3.80 l-4.40,0 Z" fill="#2222e4"/>
<path d="M343.33,147.45 l2.20,3.80 l-4.40,0 Z" fill="#2222e4"/>
<path d="M350.67,144.26 l2.20,3.80 l-4.40,0 Z" fill="#2222e4"/>
<path d="M358.00,143.68 l2.20,3.80 l-4.40,0 Z" fill="#2222e4"/>
<path d="M380.00,138.17 l2.20,3.80 l-4.40,0 Z" fill="#2222e4"/>
<path d="M402.00,128.75 l2.20,3.80 l-4.40,0 Z" fill="#2222e4"/>
<path d="M424.00,128.17 l2.20,3.80 l-4.40,0 Z" fill="#2222e4"/>
<path d="M446.00,116.57 l2.20,3.80 l-4.40,0 Z" fill="#2222e4"/>
<path d="M468.00,113.09 l2.20,3.80 l-4.40,0 Z" fill="#2222e4"/>
<path d="M490.00,109.46 l2.20,3.80 l-4.40,0 Z" fill="#2222e4"/>
<path d="M512.00,107.58 l2.20,3.80 l-4.40,0 Z" fill="#2222e4"/>
<path d="M534.00,106.56 l2.20,3.80 l-4.40,0 Z" fill="#2222e4"/>
<polyline points="336.0,155.7 343.3,154.4 350.7,151.9 358.0,148.3 380.0,135.3 402.0,125.0 424.0,114.4 446.0,100.6 468.0,89.3 490.0,77.4 512.0,71.6 534.0,66.5" fill="none" stroke="#ec141c" stroke-width="0.8"/>
<circle cx="336.00" cy="155.70" r="1.95" fill="#ec141c"/>
<circle cx="343.33" cy="154.39" r="1.95" fill="#ec141c"/>
<circle cx="350.67" cy="151.93" r="1.95" fill="#ec141c"/>
<circle cx="358.00" cy="148.30" r="1.95" fill="#ec141c"/>
<circle cx="380.00" cy="135.25" r="1.95" fill="#ec141c"/>
<circle cx="402.00" cy="124.96" r="1.95" fill="#ec141c"/>
<circle cx="424.00" cy="114.38" r="1.95" fill="#ec141c"/>
<circle cx="446.00" cy="100.60" r="1.95" fill="#ec141c"/>
<circle cx="468.00" cy="89.29" r="1.95" fill="#ec141c"/>
<circle cx="490.00" cy="77.40" r="1.95" fill="#ec141c"/>
<circle cx="512.00" cy="71.60" r="1.95" fill="#ec141c"/>
<circle cx="534.00" cy="66.52" r="1.95" fill="#ec141c"/>
<polyline points="336.0,155.7 343.3,154.2 350.7,152.1 358.0,151.5 380.0,134.2 402.0,117.0 424.0,99.1 446.0,81.3 468.0,55.6 490.0,39.7 512.0,27.7 534.0,17.9" fill="none" stroke="#1a1a1a" stroke-width="0.8"/>
<rect x="334.30" y="154.00" width="3.40" height="3.40" fill="#1a1a1a"/>
<rect x="341.63" y="152.55" width="3.40" height="3.40" fill="#1a1a1a"/>
<rect x="348.97" y="150.38" width="3.40" height="3.40" fill="#1a1a1a"/>
<rect x="356.30" y="149.79" width="3.40" height="3.40" fill="#1a1a1a"/>
<rect x="378.30" y="132.54" width="3.40" height="3.40" fill="#1a1a1a"/>
<rect x="400.30" y="115.28" width="3.40" height="3.40" fill="#1a1a1a"/>
<rect x="422.30" y="97.45" width="3.40" height="3.40" fill="#1a1a1a"/>
<rect x="444.30" y="79.61" width="3.40" height="3.40" fill="#1a1a1a"/>
<rect x="466.30" y="53.95" width="3.40" height="3.40" fill="#1a1a1a"/>
<rect x="488.30" y="38.00" width="3.40" height="3.40" fill="#1a1a1a"/>
<rect x="510.30" y="25.96" width="3.40" height="3.40" fill="#1a1a1a"/>
<rect x="532.30" y="16.25" width="3.40" height="3.40" fill="#1a1a1a"/>
<text x="484.6" y="53.4" font-size="9.3" fill="#2a2a2a" stroke="#2a2a2a" stroke-width="0.15" textLength="49.2" lengthAdjust="spacingAndGlyphs">No scavenger</text>
<text x="499.4" y="87.4" font-size="9.3" fill="#2a2a2a" stroke="#2a2a2a" stroke-width="0.15">N<tspan dy="2.2" font-size="68%">2</tspan><tspan dy="-2.2" font-size="0.1"> </tspan></text>
<text x="497.6" y="123.4" font-size="9.3" fill="#2a2a2a" stroke="#2a2a2a" stroke-width="0.15">IPA</text>
<text x="499.8" y="143" font-size="9.3" fill="#2a2a2a" stroke="#2a2a2a" stroke-width="0.15">KI</text>
<line x1="333" y1="113.4" x2="406" y2="113.4" stroke="#f222d2" stroke-width="1" stroke-dasharray="2.4,2.8"/>
<path d="M329.2,113.4 l5,-2 l0,4 Z M409.8,113.4 l-5,-2 l0,4 Z" fill="#f222d2"/>
<line x1="355.5" y1="98.4" x2="355.5" y2="162" stroke="#f222d2" stroke-width="1" stroke-dasharray="2.4,2.8"/>
<text x="334.4" y="109.2" font-size="8.9" fill="#2a2a2a" stroke="#2a2a2a" stroke-width="0.15" textLength="17.2" lengthAdjust="spacingAndGlyphs">Dark</text>
<text x="357.2" y="109.2" font-size="8.9" fill="#2a2a2a" stroke="#2a2a2a" stroke-width="0.15" textLength="50.6" lengthAdjust="spacingAndGlyphs">Photocatalytic</text>
<path d="M347.0,11.2 L347.0,79.8 L444.6,79.8 L444.6,11.2" fill="none" stroke="#3a3a3a" stroke-width="0.7"/>
<line x1="347.0" y1="79.8" x2="348.6" y2="79.8" stroke="#3a3a3a" stroke-width="0.6"/>
<text x="345.3" y="81.1" font-size="5.6" fill="#3a3a3a" text-anchor="end">0.0</text>
<line x1="347.0" y1="58.5" x2="348.6" y2="58.5" stroke="#3a3a3a" stroke-width="0.6"/>
<text x="345.3" y="59.8" font-size="5.6" fill="#3a3a3a" text-anchor="end">0.3</text>
<line x1="347.0" y1="37.2" x2="348.6" y2="37.2" stroke="#3a3a3a" stroke-width="0.6"/>
<text x="345.3" y="38.5" font-size="5.6" fill="#3a3a3a" text-anchor="end">0.6</text>
<line x1="347.0" y1="15.9" x2="348.6" y2="15.9" stroke="#3a3a3a" stroke-width="0.6"/>
<text x="345.3" y="17.2" font-size="5.6" fill="#3a3a3a" text-anchor="end">0.9</text>
<line x1="348.1" y1="79.8" x2="348.1" y2="78.2" stroke="#3a3a3a" stroke-width="0.6"/>
<text x="348.1" y="85.6" font-size="5.6" fill="#3a3a3a" text-anchor="middle">0</text>
<line x1="377.6" y1="79.8" x2="377.6" y2="78.2" stroke="#3a3a3a" stroke-width="0.6"/>
<text x="377.6" y="85.6" font-size="5.6" fill="#3a3a3a" text-anchor="middle">100</text>
<line x1="407.0" y1="79.8" x2="407.0" y2="78.2" stroke="#3a3a3a" stroke-width="0.6"/>
<text x="407.0" y="85.6" font-size="5.6" fill="#3a3a3a" text-anchor="middle">200</text>
<line x1="436.5" y1="79.8" x2="436.5" y2="78.2" stroke="#3a3a3a" stroke-width="0.6"/>
<text x="436.5" y="85.6" font-size="5.6" fill="#3a3a3a" text-anchor="middle">300</text>
<text x="393" y="92.2" font-size="6.8" fill="#3a3a3a" text-anchor="middle">t/min</text>
<text x="0" y="0" font-size="5.8" fill="#3a3a3a" text-anchor="middle" transform="translate(334.4,48.6) rotate(-90)">-ln(C<tspan font-size="4.2" dy="1.2">t</tspan><tspan dy="-1.2">/C</tspan><tspan font-size="4.2" dy="1.2">0</tspan><tspan dy="-1.2">)</tspan></text>
<line x1="348.1" y1="76.2" x2="420.5" y2="68.1" stroke="#12907a" stroke-width="0.8"/>
<path d="M348.10,77.17 l1.21,-2.09 l-2.42,0 Z" fill="#12907a"/>
<path d="M357.00,77.36 l1.21,-2.09 l-2.42,0 Z" fill="#12907a"/>
<path d="M366.00,75.97 l1.21,-2.09 l-2.42,0 Z" fill="#12907a"/>
<path d="M374.90,74.97 l1.21,-2.09 l-2.42,0 Z" fill="#12907a"/>
<path d="M383.90,74.27 l1.21,-2.09 l-2.42,0 Z" fill="#12907a"/>
<path d="M393.00,71.17 l1.21,-2.09 l-2.42,0 Z" fill="#12907a"/>
<path d="M401.80,70.67 l1.21,-2.09 l-2.42,0 Z" fill="#12907a"/>
<path d="M410.90,70.27 l1.21,-2.09 l-2.42,0 Z" fill="#12907a"/>
<path d="M419.70,70.27 l1.21,-2.09 l-2.42,0 Z" fill="#12907a"/>
<line x1="348.1" y1="76.2" x2="420.5" y2="55.4" stroke="#2222e4" stroke-width="0.8"/>
<path d="M348.10,74.64 l1.21,2.09 l-2.42,0 Z" fill="#2222e4"/>
<path d="M357.00,71.73 l1.21,2.09 l-2.42,0 Z" fill="#2222e4"/>
<path d="M366.00,66.23 l1.21,2.09 l-2.42,0 Z" fill="#2222e4"/>
<path d="M374.90,66.94 l1.21,2.09 l-2.42,0 Z" fill="#2222e4"/>
<path d="M383.90,61.73 l1.21,2.09 l-2.42,0 Z" fill="#2222e4"/>
<path d="M393.00,59.13 l1.21,2.09 l-2.42,0 Z" fill="#2222e4"/>
<path d="M401.80,57.94 l1.21,2.09 l-2.42,0 Z" fill="#2222e4"/>
<path d="M410.90,56.73 l1.21,2.09 l-2.42,0 Z" fill="#2222e4"/>
<path d="M419.70,56.23 l1.21,2.09 l-2.42,0 Z" fill="#2222e4"/>
<line x1="348.1" y1="76.2" x2="420.5" y2="33.6" stroke="#ec141c" stroke-width="0.8"/>
<circle cx="348.10" cy="75.90" r="1.07" fill="#ec141c"/>
<circle cx="357.00" cy="71.80" r="1.07" fill="#ec141c"/>
<circle cx="366.00" cy="65.90" r="1.07" fill="#ec141c"/>
<circle cx="374.90" cy="60.40" r="1.07" fill="#ec141c"/>
<circle cx="383.90" cy="53.40" r="1.07" fill="#ec141c"/>
<circle cx="393.00" cy="48.00" r="1.07" fill="#ec141c"/>
<circle cx="401.80" cy="42.00" r="1.07" fill="#ec141c"/>
<circle cx="410.90" cy="39.10" r="1.07" fill="#ec141c"/>
<circle cx="419.70" cy="36.70" r="1.07" fill="#ec141c"/>
<line x1="348.1" y1="76.2" x2="420.5" y2="11.6" stroke="#1a1a1a" stroke-width="0.8"/>
<rect x="347.17" y="74.97" width="1.87" height="1.87" fill="#1a1a1a"/>
<rect x="356.06" y="69.66" width="1.87" height="1.87" fill="#1a1a1a"/>
<rect x="365.06" y="58.46" width="1.87" height="1.87" fill="#1a1a1a"/>
<rect x="373.96" y="48.96" width="1.87" height="1.87" fill="#1a1a1a"/>
<rect x="382.96" y="41.56" width="1.87" height="1.87" fill="#1a1a1a"/>
<rect x="392.06" y="33.86" width="1.87" height="1.87" fill="#1a1a1a"/>
<rect x="400.87" y="27.27" width="1.87" height="1.87" fill="#1a1a1a"/>
<rect x="409.96" y="18.87" width="1.87" height="1.87" fill="#1a1a1a"/>
<rect x="418.76" y="11.66" width="1.87" height="1.87" fill="#1a1a1a"/>
<rect x="356.56" y="16.67" width="1.87" height="1.87" fill="#1a1a1a"/>
<text x="365.8" y="19.5" font-size="6" fill="#3a3a3a">No scavenger</text>
<circle cx="357.50" cy="25.30" r="1.07" fill="#ec141c"/>
<text x="365.8" y="27.2" font-size="6" fill="#3a3a3a">N<tspan dy="1.2" font-size="70%">2</tspan><tspan dy="-1.2" font-size="0.1"> </tspan></text>
<path d="M357.50,33.53 l1.21,2.09 l-2.42,0 Z" fill="#2222e4"/>
<text x="365.8" y="36.699999999999996" font-size="6" fill="#3a3a3a">IPA</text>
<path d="M357.50,43.06 l1.21,-2.09 l-2.42,0 Z" fill="#12907a"/>
<text x="365.8" y="43.699999999999996" font-size="6" fill="#3a3a3a">KI</text>
<text x="407.8" y="30" font-size="6" fill="#3a3a3a"><tspan font-style="italic">k</tspan>=0.0038min<tspan dy="-2.2" font-size="70%">-1</tspan><tspan dy="2.2" font-size="0.1"> </tspan></text>
<text x="407.8" y="48.5" font-size="6" fill="#3a3a3a"><tspan font-style="italic">k</tspan>=0.0024min<tspan dy="-2.2" font-size="70%">-1</tspan><tspan dy="2.2" font-size="0.1"> </tspan></text>
<text x="407.8" y="65.2" font-size="6" fill="#3a3a3a"><tspan font-style="italic">k</tspan>=0.0011min<tspan dy="-2.2" font-size="70%">-1</tspan><tspan dy="2.2" font-size="0.1"> </tspan></text>
<text x="407.8" y="77" font-size="6" fill="#3a3a3a"><tspan font-style="italic">k</tspan>=0.0005min<tspan dy="-2.2" font-size="70%">-1</tspan><tspan dy="2.2" font-size="0.1"> </tspan></text>
</g>
<g id="panelC">
<text class="lab" x="2" y="193">(c)</text>
<rect x="27.2" y="181.9" width="258.4" height="183" fill="#fce9db" stroke="#2c3f8c" stroke-width="1"/>
<line x1="69" y1="225.5" x2="188" y2="225.5" stroke="#e040c8" stroke-width="0.7" stroke-dasharray="1.2,0.9"/>
<line x1="69" y1="235" x2="92" y2="235" stroke="#e040c8" stroke-width="0.7" stroke-dasharray="1.2,0.9"/>
<line x1="69" y1="316.3" x2="92" y2="316.3" stroke="#e040c8" stroke-width="0.7" stroke-dasharray="1.2,0.9"/>
<line x1="69" y1="323.4" x2="193" y2="323.4" stroke="#e040c8" stroke-width="0.7" stroke-dasharray="1.2,0.9"/>
<line x1="69" y1="274.6" x2="285" y2="274.6" stroke="#3a2f8c" stroke-width="0.9" stroke-dasharray="2.2,1.3"/>
<line x1="69.1" y1="189" x2="69.1" y2="357.8" stroke="#c40a0a" stroke-width="1.6"/><path d="M67.6,191 L69.1,186.4 L70.6,191 Z" fill="#c40a0a"/>
<line x1="70" y1="212.2" x2="78.6" y2="212.2" stroke="#222" stroke-width="1.2"/>
<text x="67.4" y="214.8" font-size="8.5" fill="#111" font-weight="bold" text-anchor="end" stroke="#111" stroke-width="0.26">-2 eV</text>
<line x1="70" y1="248" x2="78.6" y2="248" stroke="#222" stroke-width="1.2"/>
<text x="65.4" y="248.8" font-size="8.5" fill="#111" font-weight="bold" text-anchor="end" stroke="#111" stroke-width="0.26">-1 eV</text>
<text x="67.2" y="277.4" font-size="8.5" fill="#111" font-weight="bold" text-anchor="end" stroke="#111" stroke-width="0.26">0 eV</text>
<line x1="70" y1="300.4" x2="78.6" y2="300.4" stroke="#222" stroke-width="1.2"/>
<text x="65.4" y="302.8" font-size="8.5" fill="#111" font-weight="bold" text-anchor="end" stroke="#111" stroke-width="0.26">1 eV</text>
<line x1="70" y1="333.3" x2="78.6" y2="333.3" stroke="#222" stroke-width="1.2"/>
<text x="64.8" y="335.8" font-size="8.5" fill="#111" font-weight="bold" text-anchor="end" stroke="#111" stroke-width="0.26">2 eV</text>
<text x="0" y="0" font-size="12.2" font-weight="bold" fill="#ec38c8" stroke="#ec38c8" stroke-width="0.2" text-anchor="middle" textLength="94" lengthAdjust="spacingAndGlyphs" transform="translate(44.2,273) rotate(-90)">Potential Vs RHE</text>
<rect x="91.7" y="227" width="55" height="9.8" fill="#0c226c"/>
<rect x="91.7" y="306.8" width="55" height="9.6" fill="#0c226c"/>
<rect x="187" y="215.8" width="55" height="9.4" fill="#c40808" stroke="#4a3040" stroke-width="0.5"/>
<rect x="192.5" y="314.8" width="54.3" height="9.2" fill="#c40808" stroke="#4a3040" stroke-width="0.5"/>
<text x="119" y="235.2" font-size="9.8" fill="#f4f01a" font-weight="bold" text-anchor="middle" stroke="#f4f01a" stroke-width="0.29">CB</text>
<text x="119" y="315" font-size="9.8" fill="#f4f01a" font-weight="bold" text-anchor="middle" stroke="#f4f01a" stroke-width="0.29">VB</text>
<text x="214.5" y="223.9" font-size="9.8" fill="#f4f01a" font-weight="bold" text-anchor="middle" stroke="#f4f01a" stroke-width="0.29">CB</text>
<text x="219.6" y="322.9" font-size="9.8" fill="#f4f01a" font-weight="bold" text-anchor="middle" stroke="#f4f01a" stroke-width="0.29">VB</text>
<text x="101" y="223" font-size="10.4" fill="#14246c" font-weight="bold" stroke="#14246c" stroke-width="0.31" textLength="32" lengthAdjust="spacingAndGlyphs">g-C<tspan dy="2.6" font-size="64%">3</tspan><tspan dy="-2.6" font-size="0.1"> </tspan>N<tspan dy="2.6" font-size="64%">4</tspan><tspan dy="-2.6" font-size="0.1"> </tspan></text>
<text x="192.8" y="212.4" font-size="10.4" fill="#14246c" font-weight="bold" stroke="#14246c" stroke-width="0.31" textLength="42.6" lengthAdjust="spacingAndGlyphs">E-g-C<tspan dy="2.6" font-size="64%">3</tspan><tspan dy="-2.6" font-size="0.1"> </tspan>N<tspan dy="2.6" font-size="64%">4</tspan><tspan dy="-2.6" font-size="0.1"> </tspan></text>
<text x="148.8" y="235.4" font-size="9.5" fill="#e21212" font-weight="bold" stroke="#e21212" stroke-width="0.28">-1.03 eV</text>
<text x="244.4" y="223.4" font-size="9.4" fill="#e21212" font-weight="bold" stroke="#e21212" stroke-width="0.28">-1.12 eV</text>
<text x="146.8" y="314" font-size="9.4" fill="#e21212" font-weight="bold" stroke="#e21212" stroke-width="0.28">1.77 eV</text>
<text x="249" y="323.2" font-size="9.2" fill="#e21212" font-weight="bold" stroke="#e21212" stroke-width="0.28">1.82 eV</text>
<text x="116.8" y="271.4" font-size="7.1" fill="#e21212" font-weight="bold" text-anchor="middle" stroke="#e21212" stroke-width="0.21">Eg = 2.8 eV</text>
<text x="216" y="274.6" font-size="7.4" fill="#e21212" font-weight="bold" text-anchor="middle" stroke="#e21212" stroke-width="0.22">Eg = 2.94 eV</text>
<line x1="119.3" y1="264" x2="119.3" y2="241.5" stroke="#a84040" stroke-width="0.8" marker-end="url(#mBr)"/>
<line x1="119.3" y1="282.3" x2="119.3" y2="305" stroke="#a84040" stroke-width="0.8" marker-end="url(#mBr)"/>
<line x1="216" y1="266" x2="216" y2="231.8" stroke="#a84040" stroke-width="0.8" marker-end="url(#mBr)"/>
<line x1="216" y1="284" x2="216" y2="312" stroke="#a84040" stroke-width="0.8" marker-end="url(#mBr)"/>
</g>
<g id="panelD">
<text class="lab" x="287.6" y="192">(d)</text>
<rect x="327.6" y="183.2" width="216.69999999999993" height="166.2" fill="#fff" stroke="#111" stroke-width="1.3"/>
<line x1="323.0" y1="349.6" x2="327.6" y2="349.6" stroke="#111" stroke-width="1"/>
<text x="321.6" y="352.1" font-size="7.5" fill="#111" font-weight="bold" text-anchor="end" stroke="#111" stroke-width="0.22">0.0</text>
<line x1="323.0" y1="319.3" x2="327.6" y2="319.3" stroke="#111" stroke-width="1"/>
<text x="321.6" y="321.8" font-size="7.5" fill="#111" font-weight="bold" text-anchor="end" stroke="#111" stroke-width="0.22">0.2</text>
<line x1="323.0" y1="289.0" x2="327.6" y2="289.0" stroke="#111" stroke-width="1"/>
<text x="321.6" y="291.5" font-size="7.5" fill="#111" font-weight="bold" text-anchor="end" stroke="#111" stroke-width="0.22">0.4</text>
<line x1="323.0" y1="258.6" x2="327.6" y2="258.6" stroke="#111" stroke-width="1"/>
<text x="321.6" y="261.1" font-size="7.5" fill="#111" font-weight="bold" text-anchor="end" stroke="#111" stroke-width="0.22">0.6</text>
<line x1="323.0" y1="228.3" x2="327.6" y2="228.3" stroke="#111" stroke-width="1"/>
<text x="321.6" y="230.8" font-size="7.5" fill="#111" font-weight="bold" text-anchor="end" stroke="#111" stroke-width="0.22">0.8</text>
<line x1="323.0" y1="198.0" x2="327.6" y2="198.0" stroke="#111" stroke-width="1"/>
<text x="321.6" y="200.5" font-size="7.5" fill="#111" font-weight="bold" text-anchor="end" stroke="#111" stroke-width="0.22">1.0</text>
<line x1="327.6" y1="349.4" x2="327.6" y2="352.79999999999995" stroke="#111" stroke-width="1"/>
<text x="327.6" y="360.2" font-size="7.5" fill="#111" font-weight="bold" text-anchor="middle" stroke="#111" stroke-width="0.22">0</text>
<line x1="380.1" y1="349.4" x2="380.1" y2="352.79999999999995" stroke="#111" stroke-width="1"/>
<text x="380.1" y="360.2" font-size="7.5" fill="#111" font-weight="bold" text-anchor="middle" stroke="#111" stroke-width="0.22">15</text>
<line x1="432.7" y1="349.4" x2="432.7" y2="352.79999999999995" stroke="#111" stroke-width="1"/>
<text x="432.7" y="360.2" font-size="7.5" fill="#111" font-weight="bold" text-anchor="middle" stroke="#111" stroke-width="0.22">30</text>
<line x1="485.2" y1="349.4" x2="485.2" y2="352.79999999999995" stroke="#111" stroke-width="1"/>
<text x="485.2" y="360.2" font-size="7.5" fill="#111" font-weight="bold" text-anchor="middle" stroke="#111" stroke-width="0.22">45</text>
<line x1="537.8" y1="349.4" x2="537.8" y2="352.79999999999995" stroke="#111" stroke-width="1"/>
<text x="537.8" y="360.2" font-size="7.5" fill="#111" font-weight="bold" text-anchor="middle" stroke="#111" stroke-width="0.22">60</text>
<text x="434.2" y="370.8" font-size="8.8" fill="#111" font-weight="bold" text-anchor="middle" stroke="#111" stroke-width="0.26" textLength="42.3" lengthAdjust="spacingAndGlyphs">Time (min)</text>
<text x="0" y="0" font-size="9.2" font-weight="bold" fill="#111" stroke="#111" stroke-width="0.25" text-anchor="middle" transform="translate(307.8,264) rotate(-90)">C/C<tspan dy="2" font-size="80%">0</tspan><tspan dy="-2" font-size="0.1"> </tspan></text>
<polyline points="327.6,198.0 380.1,198.0 432.7,198.0 485.2,198.0 537.8,198.0" fill="none" stroke="#111" stroke-width="1.4" stroke-linejoin="round"/>
<polyline points="327.6,198.0 380.1,287.4 432.7,295.0 485.2,310.2 537.8,316.2" fill="none" stroke="#2222b4" stroke-width="1.4" stroke-linejoin="round"/>
<polyline points="327.6,198.0 380.1,243.5 432.7,251.1 485.2,258.6 537.8,269.3" fill="none" stroke="#c8141e" stroke-width="1.4" stroke-linejoin="round"/>
<rect x="325.9" y="196.3" width="3.4" height="3.4" fill="#111"/>
<rect x="378.4" y="196.3" width="3.4" height="3.4" fill="#111"/>
<rect x="431.0" y="196.3" width="3.4" height="3.4" fill="#111"/>
<rect x="483.5" y="196.3" width="3.4" height="3.4" fill="#111"/>
<rect x="536.1" y="196.3" width="3.4" height="3.4" fill="#111"/>
<circle cx="327.6" cy="198.0" r="1.9" fill="#e21018"/>
<circle cx="380.1" cy="243.5" r="1.9" fill="#e21018"/>
<circle cx="432.7" cy="251.1" r="1.9" fill="#e21018"/>
<circle cx="485.2" cy="258.6" r="1.9" fill="#e21018"/>
<circle cx="537.8" cy="269.3" r="1.9" fill="#e21018"/>
<path d="M327.6,195.5 l2.3,3.9 l-4.6,0 Z" fill="#2020c0"/>
<path d="M380.1,284.9 l2.3,3.9 l-4.6,0 Z" fill="#2020c0"/>
<path d="M432.7,292.5 l2.3,3.9 l-4.6,0 Z" fill="#2020c0"/>
<path d="M485.2,307.7 l2.3,3.9 l-4.6,0 Z" fill="#2020c0"/>
<path d="M537.8,313.7 l2.3,3.9 l-4.6,0 Z" fill="#2020c0"/>
<line x1="330.6" y1="316.8" x2="349.4" y2="316.8" stroke="#111" stroke-width="1.3"/>
<rect x="338.3" y="315.1" width="3.4" height="3.4" fill="#111"/>
<text x="352" y="319.40000000000003" font-size="8" fill="#111" font-weight="bold" stroke="#111" stroke-width="0.24">Blank</text>
<line x1="330.6" y1="326.8" x2="349.4" y2="326.8" stroke="#c8141e" stroke-width="1.3"/>
<circle cx="340.0" cy="326.8" r="1.9" fill="#e21018"/>
<text x="352" y="329.40000000000003" font-size="8" fill="#111" font-weight="bold" stroke="#111" stroke-width="0.24">g-C<tspan dy="2" font-size="84%">3</tspan><tspan dy="-2" font-size="0.1"> </tspan>N<tspan dy="2" font-size="84%">4</tspan><tspan dy="-2" font-size="0.1"> </tspan></text>
<line x1="330.6" y1="339.3" x2="349.4" y2="339.3" stroke="#2222b4" stroke-width="1.3"/>
<path d="M340.0,336.8 l2.3,3.9 l-4.6,0 Z" fill="#2020c0"/>
<text x="352" y="341.90000000000003" font-size="8" fill="#111" font-weight="bold" stroke="#111" stroke-width="0.24">E-g-C<tspan dy="2" font-size="84%">3</tspan><tspan dy="-2" font-size="0.1"> </tspan>N<tspan dy="2" font-size="84%">4</tspan><tspan dy="-2" font-size="0.1"> </tspan></text>
</g>
</svg></body></html>
